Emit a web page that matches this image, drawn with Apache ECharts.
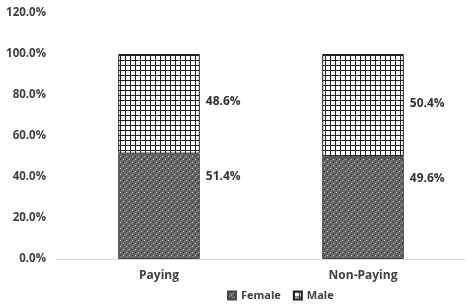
<!DOCTYPE html>
<html><head><meta charset="utf-8">
<script src="https://cdn.jsdelivr.net/npm/echarts@6/dist/echarts.min.js"></script>
<style>html,body{margin:0;padding:0;background:#fff}#c{width:474px;height:306px}</style>
</head><body><div id="c"></div>
<script>
const categories = ['Paying', 'Non-Paying'];
const femaleValues = [51.4, 49.6];
const maleValues = [48.6, 50.4];
const yTicks = [0, 20, 40, 60, 80, 100, 120];

function femalePattern() {
  const c = document.createElement('canvas'); c.width = 6; c.height = 6;
  const g = c.getContext('2d');
  g.fillStyle = '#636363'; g.fillRect(0, 0, 6, 6);
  g.fillStyle = '#d0d0d0';
  g.fillRect(0, 0, 1, 1); g.fillRect(3, 3, 1, 1);
  g.fillStyle = '#2a2a2a';
  g.fillRect(3, 0, 1, 1); g.fillRect(0, 3, 1, 1);
  g.fillStyle = '#939393';
  g.fillRect(1, 4, 1, 1); g.fillRect(4, 1, 1, 1);
  return c;
}
function malePattern() {
  const c = document.createElement('canvas'); c.width = 5; c.height = 5;
  const g = c.getContext('2d');
  g.fillStyle = '#ffffff'; g.fillRect(0, 0, 5, 5);
  g.fillStyle = '#222222';
  g.fillRect(0, 0, 5, 1); g.fillRect(0, 0, 1, 5);
  return c;
}
const fPat = { image: femalePattern(), repeat: 'repeat' };
const mPat = { image: malePattern(), repeat: 'repeat' };

const chart = echarts.init(document.getElementById('c'));
const labelStyle = { show: true, position: 'right', distance: 6, color: '#333', fontFamily: 'Open Sans', fontWeight: 'bold', fontSize: 12, formatter: p => p.value.toFixed(1) + '%' };
chart.setOption({
  animation: false,
  grid: { left: 57, right: 9, top: 13, bottom: 47 },
  legend: {
    left: 222, bottom: 0, itemWidth: 8, itemHeight: 8, itemGap: 12,
    textStyle: { color: '#404040', fontFamily: 'Open Sans', fontWeight: 'bold', fontSize: 11 },
    data: [{ name: 'Female', icon: 'rect' }, { name: 'Male', icon: 'rect' }]
  },
  xAxis: {
    type: 'category', data: categories,
    axisLine: { lineStyle: { color: '#d9d9d9', width: 1 } },
    axisTick: { show: false },
    axisLabel: { color: '#404040', fontFamily: 'Open Sans', fontWeight: 'bold', fontSize: 12, margin: 11 }
  },
  yAxis: {
    type: 'value', min: yTicks[0], max: yTicks[yTicks.length - 1], interval: 20,
    axisLine: { show: false }, axisTick: { show: false },
    splitLine: { show: false },
    axisLabel: { color: '#404040', fontFamily: 'Open Sans', fontWeight: 'bold', fontSize: 11.5, margin: 11, formatter: v => v.toFixed(1) + '%' }
  },
  series: [
    { name: 'Female', type: 'bar', stack: 's', data: femaleValues, barWidth: '40%',
      itemStyle: { color: fPat, borderColor: '#444', borderWidth: 1 },
      label: Object.assign({}, labelStyle, { offset: [0, -30] }) },
    { name: 'Male', type: 'bar', stack: 's', data: maleValues, barWidth: '40%',
      itemStyle: { color: mPat, borderColor: '#222', borderWidth: 1 },
      label: Object.assign({}, labelStyle, { offset: [0, -2] }) }
  ]
});
</script></body></html>
